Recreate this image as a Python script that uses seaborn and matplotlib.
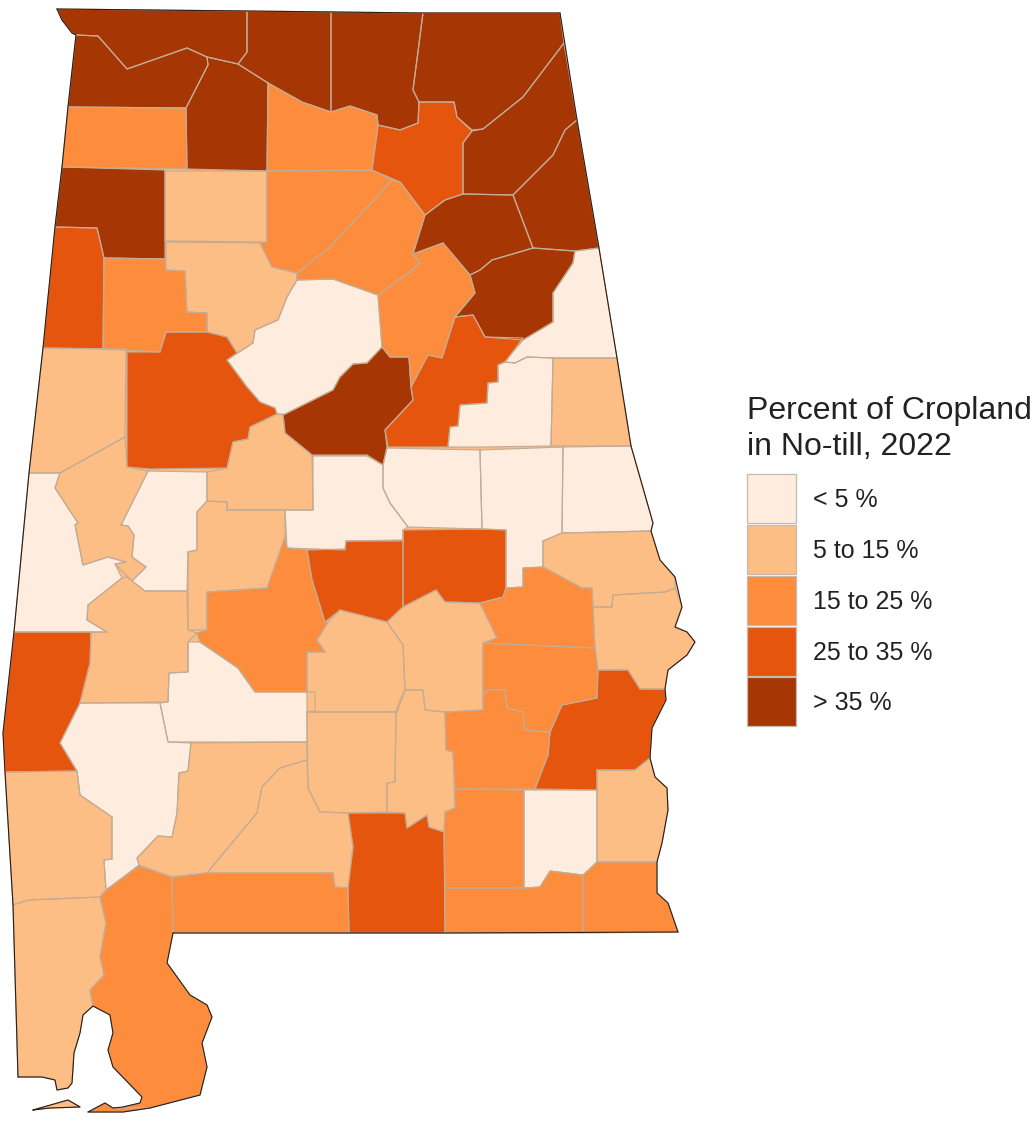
import matplotlib
matplotlib.use("Agg")
import matplotlib.pyplot as plt
import pandas as pd
import seaborn as sns

# classes
class_labels = ['< 5 %', '5 to 15 %', '15 to 25 %', '25 to 35 %', '> 35 %']
class_colors = ['#FEEDDE', '#FDBE85', '#FD8D3C', '#E6550D', '#A63603']

# county class (index in class_labels) and outline
county_class = {
    'Lauderdale': 4, 'Colbert': 4, 'Limestone': 4, 'Madison': 4, 'Jackson': 4, 'Lawrence': 4,
    'Marshall': 3, 'Morgan': 2, 'Franklin': 2, 'Marion': 4, 'Winston': 1, 'Cullman': 2,
    'Blount': 2, 'Etowah': 2, 'Jefferson': 0, 'Walker': 1, 'Fayette': 2, 'Lamar': 3,
    'Pickens': 1, 'Tuscaloosa': 3, 'Bibb': 1, 'Shelby': 4, 'StClair': 3, 'DeKalb': 4,
    'Cherokee': 4, 'Gadsden': 4, 'Calhoun': 4, 'Cleburne': 0, 'Talladega': 0, 'Randolph': 1,
    'Coosa': 0, 'Tallapoosa': 0, 'Chambers': 0, 'Chilton': 0, 'Elmore': 3, 'Autauga': 3,
    'Dallas': 2, 'Perry': 1, 'Hale': 0, 'Greene': 1, 'Sumter': 0, 'Marengo': 1,
    'Choctaw': 3, 'Clarke': 0, 'Wilcox': 0, 'Washington': 1, 'Mobile': 1, 'Baldwin': 2,
    'Dauphin': 1, 'FortMorgan': 2, 'Monroe': 1, 'Conecuh': 1, 'Escambia': 2, 'Butler': 1,
    'Lowndes': 1, 'Montgomery': 1, 'Crenshaw': 1, 'Covington': 3, 'Pike': 2, 'Bullock': 2,
    'Macon': 2, 'Lee': 1, 'Russell': 1, 'Barbour': 3, 'Henry': 1, 'Dale': 0,
    'Coffee': 2, 'Geneva': 2, 'Houston': 2,
}

county_shapes = {
    'Lauderdale': [(57,9),(247,11),(247,52),(238,64),(207,57),(187,48),(127,69),(98,36),(76,35),(72,33),(62,20)],
    'Colbert': [(76,35),(98,36),(127,69),(187,48),(207,57),(208,65),(186,108),(68,107)],
    'Limestone': [(247,11),(331,12),(331,112),(302,102),(268,83),(238,64),(247,52)],
    'Madison': [(331,12),(423,13),(413,90),(419,102),(418,123),(400,130),(378,125),(377,115),(350,106),(331,112)],
    'Jackson': [(423,13),(560,13),(564,43),(523,97),(483,129),(472,130),(457,117),(454,102),(419,102),(413,90)],
    'Lawrence': [(207,57),(238,64),(268,83),(267,171),(187,169),(186,108),(208,65)],
    'Marshall': [(419,102),(454,102),(457,117),(472,131),(463,143),(463,194),(445,200),(425,215),(400,182),(372,170),(378,125),(400,130),(418,123)],
    'Morgan': [(268,83),(302,102),(331,112),(350,106),(377,115),(378,125),(372,170),(267,171)],
    'Franklin': [(68,107),(186,108),(187,169),(62,167)],
    'Marion': [(62,167),(165,170),(165,259),(104,258),(97,228),(55,227)],
    'Winston': [(165,171),(267,171),(267,242),(165,241)],
    'Cullman': [(267,171),(372,170),(392,180),(377,197),(355,220),(330,247),(297,273),(272,267),(260,243),(267,242)],
    'Blount': [(392,180),(400,182),(425,215),(413,254),(420,263),(410,272),(378,295),(333,279),(297,280),(297,273),(330,247),(355,220),(377,197)],
    'Etowah': [(443,243),(470,275),(475,293),(455,317),(442,358),(428,355),(411,387),(409,357),(390,357),(382,347),(378,295),(410,272),(420,263),(413,254)],
    'Jefferson': [(333,279),(378,295),(382,347),(367,363),(353,364),(340,377),(333,390),(307,403),(285,414),(277,414),(275,408),(260,402),(247,387),(227,360),(253,343),(255,330),(278,320),(287,297),(297,280)],
    'Walker': [(166,242),(260,243),(272,267),(297,273),(297,280),(287,297),(278,320),(255,330),(253,343),(237,353),(227,337),(207,332),(207,313),(187,312),(185,271),(166,270)],
    'Fayette': [(104,258),(165,259),(166,270),(185,271),(187,312),(207,313),(207,332),(166,332),(160,352),(103,349)],
    'Lamar': [(55,227),(97,228),(104,258),(103,349),(43,348)],
    'Pickens': [(43,348),(126,349),(125,437),(60,473),(29,473)],
    'Tuscaloosa': [(127,352),(160,352),(166,332),(207,332),(227,337),(237,353),(227,360),(247,387),(260,402),(275,408),(277,414),(250,427),(248,439),(233,442),(227,468),(150,469),(127,467)],
    'Bibb': [(283,415),(285,433),(312,455),(313,510),(227,510),(227,502),(207,501),(207,472),(227,468),(233,442),(248,439),(250,427),(277,414)],
    'Shelby': [(382,347),(390,357),(409,357),(411,387),(413,400),(385,430),(387,447),(383,465),(367,455),(340,455),(312,455),(285,433),(283,415),(307,403),(333,390),(340,377),(353,364),(367,363)],
    'StClair': [(455,317),(473,315),(485,337),(523,338),(512,353),(505,362),(498,365),(498,382),(488,383),(487,403),(460,405),(458,426),(450,427),(448,447),(388,447),(385,430),(413,400),(411,387),(428,355),(442,358)],
    'DeKalb': [(564,43),(577,120),(565,130),(553,155),(513,195),(463,194),(463,143),(472,131),(483,129),(523,97)],
    'Cherokee': [(577,120),(599,248),(575,251),(533,248),(513,195),(553,155),(565,130)],
    'Gadsden': [(463,194),(513,195),(533,248),(492,260),(480,270),(470,275),(443,243),(413,254),(425,215),(445,200)],
    'Calhoun': [(533,248),(575,251),(573,263),(553,293),(553,322),(523,340),(485,337),(473,315),(455,317),(475,293),(470,275),(480,270),(492,260)],
    'Cleburne': [(575,251),(599,248),(617,358),(553,358),(527,357),(515,363),(505,362),(512,353),(523,340),(553,322),(553,293),(573,263)],
    'Talladega': [(505,362),(515,363),(527,357),(553,358),(551,446),(483,447),(448,447),(450,427),(458,426),(460,405),(487,403),(488,383),(498,382),(498,365)],
    'Randolph': [(553,358),(617,358),(631,446),(551,446)],
    'Coosa': [(387,448),(480,450),(482,529),(408,527),(390,503),(383,488),(383,465)],
    'Tallapoosa': [(480,450),(563,447),(562,533),(543,541),(543,567),(523,568),(523,587),(506,588),(506,530),(482,529)],
    'Chambers': [(563,447),(631,446),(653,523),(651,531),(562,533)],
    'Chilton': [(313,456),(340,456),(367,456),(383,465),(383,488),(390,503),(408,527),(403,530),(403,541),(346,541),(345,550),(287,548),(285,510),(313,510)],
    'Elmore': [(403,530),(482,529),(506,530),(506,588),(503,597),(480,603),(445,602),(436,590),(403,607)],
    'Autauga': [(403,540),(346,541),(345,549),(307,550),(312,580),(325,622),(340,610),(387,622),(403,607)],
    'Dallas': [(307,550),(287,548),(285,537),(267,588),(207,592),(207,630),(197,633),(200,642),(238,668),(255,692),(307,692),(307,652),(325,652),(317,640),(328,622),(325,622),(312,580)],
    'Perry': [(227,510),(285,510),(285,537),(267,588),(207,592),(207,630),(188,630),(188,552),(197,550),(197,512),(207,501),(227,502)],
    'Hale': [(148,471),(207,472),(207,501),(197,512),(197,550),(188,552),(187,591),(145,591),(132,581),(146,567),(132,557),(134,535),(128,526),(121,525)],
    'Greene': [(125,437),(127,467),(148,471),(121,525),(128,526),(134,535),(132,557),(146,567),(132,581),(115,564),(126,562),(108,557),(83,565),(75,525),(78,523),(55,488),(60,473)],
    'Sumter': [(29,473),(60,473),(55,488),(78,523),(75,525),(83,565),(108,557),(126,562),(115,564),(122,578),(88,605),(87,620),(107,632),(14,632)],
    'Marengo': [(127,577),(132,581),(145,591),(187,591),(188,630),(197,633),(188,642),(188,672),(169,673),(168,702),(80,703),(90,663),(91,632),(107,632),(87,620),(88,605),(122,578)],
    'Choctaw': [(14,632),(91,632),(90,663),(80,703),(60,743),(77,771),(5,772),(3,733)],
    'Clarke': [(80,703),(160,703),(168,742),(191,743),(188,771),(179,773),(177,813),(172,837),(158,836),(137,858),(139,865),(106,890),(104,860),(112,859),(112,817),(80,795),(77,771),(60,743)],
    'Wilcox': [(160,703),(168,702),(169,673),(188,672),(188,642),(200,642),(238,668),(255,692),(315,692),(315,711),(307,712),(307,742),(168,742)],
    'Washington': [(5,772),(77,771),(80,795),(112,817),(112,859),(104,860),(106,890),(100,897),(28,900),(13,905)],
    'Mobile': [(13,905),(28,900),(100,897),(106,923),(100,957),(104,975),(90,990),(93,1006),(83,1015),(80,1033),(74,1053),(72,1083),(68,1088),(57,1090),(55,1080),(42,1077),(33,1077),(18,1077)],
    'Baldwin': [(139,866),(172,877),(173,933),(167,963),(190,995),(207,1005),(212,1017),(202,1043),(207,1067),(200,1095),(150,1108),(123,1107),(140,1103),(142,1097),(113,1067),(108,1050),(113,1033),(110,1015),(93,1006),(90,990),(104,975),(100,957),(106,923),(100,897),(106,890)],
    'Dauphin': [(33,1110),(68,1100),(80,1107),(50,1108)],
    'FortMorgan': [(88,1112),(105,1103),(113,1108),(150,1108),(123,1112)],
    'Monroe': [(191,743),(307,742),(307,760),(280,768),(262,787),(257,813),(207,873),(172,877),(139,865),(137,858),(158,836),(172,837),(177,813),(179,773),(188,771)],
    'Conecuh': [(307,760),(308,788),(320,812),(348,813),(353,847),(348,888),(335,887),(333,873),(207,873),(257,813),(262,787),(280,768)],
    'Escambia': [(172,877),(207,873),(333,873),(335,887),(348,888),(349,933),(173,933)],
    'Butler': [(307,712),(396,712),(395,782),(387,783),(387,812),(348,813),(320,812),(308,788)],
    'Lowndes': [(307,652),(325,652),(317,640),(328,622),(340,610),(387,622),(403,645),(405,690),(397,712),(307,712)],
    'Montgomery': [(387,622),(403,607),(436,590),(445,602),(480,603),(497,638),(483,643),(483,710),(445,712),(425,710),(423,690),(405,690),(403,645)],
    'Crenshaw': [(405,690),(423,690),(425,710),(445,712),(446,750),(453,752),(455,808),(445,812),(444,832),(429,827),(427,815),(407,828),(405,813),(387,812),(387,783),(395,782),(396,712),(400,700)],
    'Covington': [(348,813),(405,813),(407,828),(427,815),(429,827),(444,832),(445,933),(349,933),(348,888),(353,847)],
    'Pike': [(445,712),(483,710),(483,695),(487,690),(505,690),(507,708),(523,712),(525,730),(550,732),(548,755),(535,789),(455,789),(453,752),(446,750)],
    'Bullock': [(483,643),(595,648),(598,670),(597,698),(562,705),(550,732),(525,730),(523,712),(507,708),(505,690),(487,690),(483,695)],
    'Macon': [(480,603),(503,597),(506,588),(523,587),(523,568),(543,567),(582,588),(592,588),(593,607),(595,648),(483,643),(497,638)],
    'Lee': [(543,541),(562,533),(651,531),(660,560),(675,577),(675,588),(665,592),(613,595),(612,607),(593,607),(592,588),(582,588),(543,567)],
    'Russell': [(593,607),(612,607),(613,595),(665,592),(675,588),(682,607),(675,627),(687,632),(695,642),(687,655),(668,670),(665,689),(640,689),(628,670),(598,670),(595,648)],
    'Barbour': [(598,670),(628,670),(640,689),(665,689),(666,700),(652,728),(650,758),(635,770),(597,770),(597,790),(535,789),(548,755),(550,732),(562,705),(597,698)],
    'Henry': [(597,770),(635,770),(650,758),(655,777),(667,788),(668,810),(662,843),(657,862),(597,862)],
    'Dale': [(524,790),(597,790),(597,862),(583,875),(550,871),(540,887),(524,888)],
    'Coffee': [(455,789),(524,790),(524,888),(445,888),(444,832),(445,812),(455,808)],
    'Geneva': [(445,888),(524,888),(540,887),(550,871),(583,875),(583,933),(445,933)],
    'Houston': [(583,875),(597,862),(657,862),(657,893),(668,903),(678,932),(583,933)],
}

# state border pieces, they read darker than the county lines
border_west = [(57,9),(62,20),(72,33),(76,35),(68,107),(62,167),(55,227),(43,348),(29,473),(14,632),(3,733),(5,772),(13,905),(18,1077)]
border_north = [(57,9),(247,11),(423,13),(560,13)]
border_east = [(560,13),(577,120),(599,248),(617,358),(631,446),(653,523),(651,531),(660,560),(675,577),(682,607),(675,627),(687,632),(695,642),(687,655),(668,670),(665,689),(666,700),(652,728),(650,758),(655,777),(667,788),(668,810),(662,843),(657,862),(657,893),(668,903),(678,932)]
border_south = [(678,932),(445,933),(173,933)]
border_bay = [(173,933),(167,963),(190,995),(207,1005),(212,1017),(202,1043),(207,1067),(200,1095),(150,1108),(123,1112),(88,1112),(105,1103),(113,1108),(123,1107),(140,1103),(142,1097),(113,1067),(108,1050),(113,1033),(110,1015),(93,1006),(83,1015),(80,1033),(74,1053),(72,1083),(68,1088),(57,1090),(55,1080),(42,1077),(33,1077),(18,1077)]
border_island = [(33,1110),(68,1100),(80,1107),(50,1108),(33,1110)]

sns.set_theme(style='white')
plt.rcParams['font.family'] = ['Liberation Sans', 'DejaVu Sans']
palette = sns.color_palette(class_colors)

fig, ax = plt.subplots(figsize=(10.36, 11.22), dpi=100)
fig.subplots_adjust(0, 0, 1, 1)

# long table of the county rings for the boundary lines
rows = []
for name, shape in county_shapes.items():
    ring = shape + [shape[0]]
    for order, (px, py) in enumerate(ring):
        rows.append({'county': name, 'order': order, 'x': px, 'y': py})
df = pd.DataFrame(rows)

# backing so the small slivers between traced counties dont show white
state_ring = border_north + border_east + border_south + border_bay + border_west[::-1]
xs, ys = zip(*state_ring)
ax.fill(xs, ys, color=palette[1], lw=0, zorder=0)

for name, shape in county_shapes.items():
    xs, ys = zip(*shape)
    ax.fill(xs, ys, color=palette[county_class[name]], lw=0, zorder=1)

sns.lineplot(data=df, x='x', y='y', units='county', estimator=None, sort=False,
             color='#C4AB93', linewidth=0.85, legend=False, ax=ax, zorder=2)

for piece in [border_west, border_north, border_east, border_south, border_bay, border_island]:
    xs, ys = zip(*piece)
    ax.plot(xs, ys, color='#2A1C16', lw=0.8, zorder=3, solid_joinstyle='round')

# legend
ax.text(747, 411, 'Percent of Cropland', fontsize=23, color='#222222', va='center', ha='left')
ax.text(747, 447, 'in No-till, 2022', fontsize=23, color='#222222', va='center', ha='left')
swatch_top = [474, 525, 576, 627, 677]
for i, lab in enumerate(class_labels):
    ax.fill([747, 796, 796, 747], [swatch_top[i], swatch_top[i], swatch_top[i] + 49, swatch_top[i] + 49],
            color=palette[i], ec='#C4BAB1', lw=0.9, zorder=1)
    ax.text(813, swatch_top[i] + 26, lab, fontsize=18, color='#222222', va='center', ha='left')

ax.set_xlim(0, 1036)
ax.set_ylim(1122, 0)
ax.set_xlabel('')
ax.set_ylabel('')
ax.axis('off')

fig.savefig('out.png', dpi=100, facecolor='white')
plt.close(fig)
